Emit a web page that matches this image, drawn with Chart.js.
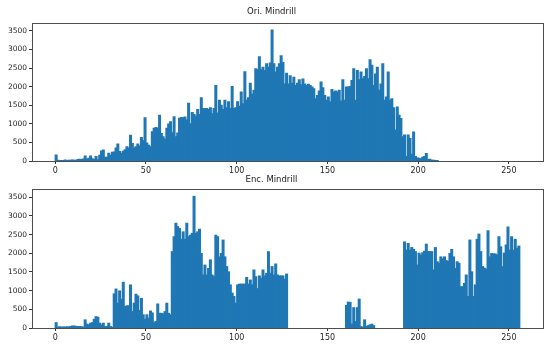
<!DOCTYPE html>
<html>
<head>
<meta charset="utf-8">
<script src="https://cdn.jsdelivr.net/npm/chart.js@4"></script>
<style>
  html, body { margin: 0; padding: 0; background: #fff; }
  body { width: 550px; height: 349px; position: relative; overflow: hidden; }
  canvas { position: absolute; left: 0; }
  #c1 { top: 0; }
  #c2 { top: 170px; }
</style>
</head>
<body>
<canvas id="c1" width="550" height="175"></canvas>
<canvas id="c2" width="550" height="179"></canvas>
<script>
// ---- data ----
const titles = ["Ori. Mindrill", "Enc. Mindrill"];
const xTickLabels = [0, 50, 100, 150, 200, 250];
const yTickLabels = [0, 500, 1000, 1500, 2000, 2500, 3000, 3500];

const oriCounts = [
  160, 20, 10, 10, 5, 25, 10, 15, 20, 25,
  20, 15, 40, 45, 40, 50, 130, 50, 70, 130,
  60, 40, 115, 30, 150, 265, 295, 100, 100, 205,
  150, 230, 240, 350, 455, 250, 205, 260, 300, 380,
  350, 690, 470, 350, 380, 455, 400, 630, 550, 1160,
  480, 420, 380, 785, 875, 900, 880, 1230, 740, 650,
  580, 875, 990, 1050, 760, 1190, 650, 750, 1150, 1170,
  1160, 1180, 1100, 1550, 1000, 1300, 1250, 1200, 1380, 1250,
  1700, 1410, 1400, 1410, 1380, 1430, 1270, 1410, 2030, 1290,
  1630, 1500, 1380, 1630, 1430, 1590, 1410, 2000, 1410, 1430,
  1590, 1470, 1850, 1540, 2400, 1630, 1700, 2090, 1790, 1900,
  2480, 2450, 2800, 2450, 2520, 2430, 2610, 2520, 2630, 3520,
  2610, 2390, 2520, 2610, 2830, 2650, 2070, 2360, 2070, 2290,
  2090, 2250, 2030, 2090, 2180, 2050, 2200, 2070, 2030, 2060,
  2030, 1990, 1940, 1670, 1760, 1880, 2120, 1970, 1760, 1630,
  1720, 1590, 1920, 1850, 1880, 1850, 1900, 1610, 2180, 1630,
  1990, 1990, 2000, 2160, 2480, 1630, 2430, 2180, 2390, 2210,
  2270, 2480, 2210, 2720, 2570, 2030, 2340, 2520, 1900, 2070,
  2610, 1630, 1720, 2390, 1630, 1670, 1430, 830, 1450, 1230,
  1140, 650, 700, 115, 700, 600, 180, 780, 115, 80,
  70, 60, 100, 120, 200, 40, 45, 20, 15, 10,
  10, 0, 0, 0, 0, 0, 0, 0, 0, 0,
  0, 0, 0, 0, 0, 0, 0, 0, 0, 0,
  0, 0, 0, 0, 0, 0, 0, 0, 0, 0,
  0, 0, 0, 0, 0, 0, 0, 0, 0, 0,
  0, 0, 0, 0, 0, 0
];

const encCounts = [
  140, 20, 30, 20, 25, 20, 30, 20, 40, 50,
  50, 40, 35, 35, 30, 20, 215, 100, 80, 125,
  140, 230, 300, 285, 125, 80, 125, 35, 40, 125,
  35, 10, 910, 1040, 660, 990, 765, 1220, 570, 590,
  590, 1150, 436, 660, 900, 855, 463, 790, 350, 230,
  350, 260, 450, 400, 140, 170, 640, 390, 390, 375,
  436, 660, 390, 350, 2040, 2440, 2800, 2710, 2660, 2370,
  2570, 2370, 2800, 2440, 2480, 2530, 3520, 2530, 2570, 2640,
  1990, 1415, 1680, 1415, 1590, 1820, 1415, 1370, 2480, 2440,
  1900, 1990, 2350, 1900, 1640, 1500, 1150, 930, 840, 660,
  1150, 1170, 1170, 1170, 1170, 1350, 1170, 1280, 1150, 1550,
  1370, 1050, 1390, 1330, 1550, 1390, 1460, 2040, 1460, 1640,
  1415, 1710, 1415, 1390, 1390, 1390, 1300, 1440, 0, 0,
  0, 0, 0, 0, 0, 0, 0, 0, 0, 0,
  0, 0, 0, 0, 0, 0, 0, 0, 0, 0,
  0, 0, 0, 0, 0, 0, 0, 0, 0, 0,
  600, 690, 680, 100, 540, 170, 540, 770, 35, 10,
  215, 35, 60, 80, 100, 60, 0, 0, 0, 0,
  0, 0, 0, 0, 0, 0, 0, 0, 0, 0,
  0, 0, 2300, 2080, 2260, 2080, 2150, 2100, 2040, 1680,
  2000, 1950, 2010, 2050, 2240, 2040, 2040, 2040, 1550, 2150,
  1770, 1730, 1900, 1850, 1900, 1800, 1780, 1990, 2100, 1900,
  1590, 1770, 1730, 1100, 1100, 1190, 1415, 840, 2350, 1500,
  840, 1150, 2370, 2510, 2040, 1640, 1600, 1570, 2600, 1900,
  1990, 1980, 1980, 1950, 2440, 2170, 1640, 2000, 2220, 2700,
  2080, 2440, 2080, 2370, 2130, 2190
];

// bin k covers [k, k+1)
const binIndex = oriCounts.map((_, k) => k);

// ---- drawing ----
Chart.defaults.font.family = "'DejaVu Sans', sans-serif";
Chart.defaults.color = '#262626';

const framePlugin = {
  id: 'frame',
  afterDraw(chart) {
    const a = chart.chartArea, ctx = chart.ctx;
    ctx.save();
    ctx.strokeStyle = '#4d4d4d';
    ctx.lineWidth = 1;
    ctx.strokeRect(Math.round(a.left) + 0.5, Math.round(a.top) + 0.5,
                   Math.round(a.right - a.left), Math.round(a.bottom - a.top));
    ctx.restore();
  }
};

function makeChart(id, title, counts, cfg) {
  // empty bins draw no bar
  const data = binIndex.map((k, i) => ({ x: k + 0.5, y: counts[i] === 0 ? null : counts[i] }));
  return new Chart(document.getElementById(id), {
    type: 'bar',
    data: {
      datasets: [{
        data: data,
        backgroundColor: '#1f77b4',
        borderWidth: 0,
        barPercentage: 1,
        categoryPercentage: 1,
        grouped: false,
        inflateAmount: 0.6
      }]
    },
    options: {
      responsive: false,
      animation: false,
      events: [],
      layout: { padding: { left: 0, right: 7, top: 0, bottom: 0 } },
      plugins: {
        legend: { display: false },
        tooltip: { enabled: false },
        title: {
          display: true,
          text: title,
          font: { size: 8.5, weight: 'normal' },
          color: '#1a1a1a',
          padding: cfg.titlePad
        }
      },
      scales: {
        x: {
          type: 'linear',
          offset: false,
          min: -12.8,
          max: 268.8,
          afterBuildTicks: s => { s.ticks = xTickLabels.map(v => ({ value: v })); },
          afterFit: s => { s.height = cfg.xHeight; },
          grid: { display: true, offset: false, drawOnChartArea: false, drawTicks: true, tickLength: 3, tickColor: '#333', tickWidth: 1 },
          border: { display: false },
          ticks: { font: { size: 8 }, padding: 2, maxRotation: 0, autoSkip: false, color: '#262626',
                   callback: v => String(v) }
        },
        y: {
          type: 'linear',
          min: 0,
          max: 3720,
          afterBuildTicks: s => { s.ticks = yTickLabels.map(v => ({ value: v })); },
          afterFit: s => { s.width = 32; },
          grid: { display: true, drawOnChartArea: false, drawTicks: true, tickLength: 3, tickColor: '#333', tickWidth: 1 },
          border: { display: false },
          ticks: { font: { size: 7.5 }, padding: 2, autoSkip: false, color: '#262626',
                   callback: v => String(v) }
        }
      }
    },
    plugins: [framePlugin]
  });
}

makeChart('c1', titles[0], oriCounts, { titlePad: { top: 6.5, bottom: 6 }, xHeight: 14 });
makeChart('c2', titles[1], encCounts, { titlePad: { top: 4.5, bottom: 4.3 }, xHeight: 21 });
</script>
</body>
</html>
